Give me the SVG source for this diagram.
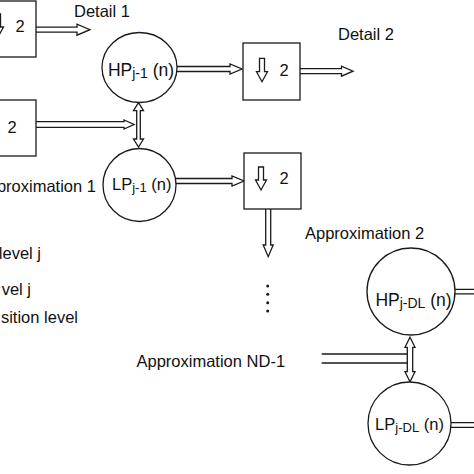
<svg xmlns="http://www.w3.org/2000/svg" width="474" height="474" viewBox="0 0 474 474">
<style>
.s{fill:#fff;stroke:#1a1a1a;stroke-width:1.3}
.ln{fill:none;stroke:#1a1a1a;stroke-width:1.3}
.t{font-family:"Liberation Sans",Arial,sans-serif;font-size:16.5px;fill:#111}
.big{font-size:17.5px}
.sub{font-size:13px}
.bsub{font-size:14px}
</style>
<rect width="474" height="474" fill="#fff"/>
<g id="connectors">
<path class="s" d="M36,27.2 L77,27.2 L77,24.2 L90,29.7 L77,35.2 L77,32.2 L36,32.2"/>
<path class="s" d="M177,66.5 L230,66.5 L230,64 L242,69 L230,74 L230,71.5 L177,71.5"/>
<path class="s" d="M300,68.7 L341.5,68.7 L341.5,66.2 L353,71.2 L341.5,76.2 L341.5,73.7 L300,73.7"/>
<path class="s" d="M36,121.7 L124,121.7 L124,120 L134,124.5 L124,129 L124,127.3 L36,127.3"/>
<path class="s" d="M176,178.5 L232,178.5 L232,176 L244,181 L232,186 L232,183.5 L176,183.5"/>
<path class="s" d="M265.7,209 L265.7,245 L263.2,245 L268.2,256.7 L273.2,245 L270.7,245 L270.7,209"/>
<path class="s" d="M138.5,102.7 L143.5,110.7 L140.3,110.7 L140.3,139 L143.5,139 L138.5,147 L133.5,139 L136.7,139 L136.7,110.7 L133.5,110.7 Z"/>
<path class="s" d="M410,337.3 L415,347.3 L412.7,347.3 L412.7,371.7 L415,371.7 L410,381.7 L405,371.7 L407.3,371.7 L407.3,347.3 L405,347.3 Z"/>
<path class="ln" d="M321.7,354 L407.3,354 M321.7,363 L407.3,363"/>
<path class="ln" d="M455,289.3 L474,289.3 M455,293.8 L474,293.8"/>
<path class="ln" d="M451,422.7 L474,422.7 M451,427.3 L474,427.3"/>
<g fill="#1a1a1a">
<circle cx="267.7" cy="286" r="1.5"/>
<circle cx="267.7" cy="294.3" r="1.5"/>
<circle cx="267.7" cy="302.7" r="1.5"/>
<circle cx="267.7" cy="311" r="1.5"/>
</g>
</g>
<g id="box-topleft">
<rect class="s" x="-21" y="1" width="57" height="56"/>
<path class="s" d="M-4.5,14 L0.5,14 L0.5,27 L3.5,27 L-2,37 L-7.5,27 L-4.5,27 Z"/>
<text class="t" x="15.5" y="32">2</text>
</g>
<g id="box-left">
<rect class="s" x="-21" y="100" width="57" height="56"/>
<text class="t" x="7.5" y="133">2</text>
</g>
<g id="box-2">
<rect class="s" x="243" y="43" width="57" height="57"/>
<path class="s" d="M259.5,58.3 L264.5,58.3 L264.5,71.7 L267.5,71.7 L262,81.7 L256.5,71.7 L259.5,71.7 Z"/>
<text class="t" x="279.5" y="76">2</text>
</g>
<g id="box-3">
<rect class="s" x="244" y="153" width="57" height="56"/>
<path class="s" d="M258.5,167 L263.5,167 L263.5,180 L266.5,180 L261,190 L255.5,180 L258.5,180 Z"/>
<text class="t" x="279.5" y="184">2</text>
</g>
<g id="hp-j1">
<ellipse class="s" cx="139.5" cy="67.5" rx="37.5" ry="35"/>
<text class="t big" x="141" y="76" text-anchor="middle">HP<tspan class="bsub" dy="1.5">j-1</tspan><tspan dy="-1.5"> (n)</tspan></text>
</g>
<g id="lp-j1">
<ellipse class="s" cx="139.5" cy="185" rx="36.5" ry="36.5"/>
<text class="t" x="141.7" y="190" text-anchor="middle">LP<tspan class="sub" dy="1.5">j-1</tspan><tspan dy="-1.5"> (n)</tspan></text>
</g>
<g id="hp-jdl">
<ellipse class="s" cx="411" cy="291.5" rx="44" ry="43.5"/>
<text class="t big" x="413.5" y="306" text-anchor="middle">HP<tspan class="bsub" dy="1.5">j-DL</tspan><tspan dy="-1.5"> (n)</tspan></text>
</g>
<g id="lp-jdl">
<ellipse class="s" cx="409.5" cy="423.5" rx="41.5" ry="41.5"/>
<text class="t" x="409.5" y="430" text-anchor="middle">LP<tspan class="sub" dy="1.5">j-DL</tspan><tspan dy="-1.5"> (n)</tspan></text>
</g>
<g id="labels">
<text class="t" x="74" y="17">Detail 1</text>
<text class="t" x="338" y="40">Detail 2</text>
<text class="t" x="96" y="192" text-anchor="end">proximation 1</text>
<text class="t" x="305" y="239">Approximation 2</text>
<text class="t" x="136.5" y="367">Approximation ND-1</text>
<text class="t" x="41" y="258.5" text-anchor="end">level j</text>
<text class="t" x="31" y="294.5" text-anchor="end">vel j</text>
<text class="t" x="78" y="323" text-anchor="end">sition level</text>
</g>
</svg>
